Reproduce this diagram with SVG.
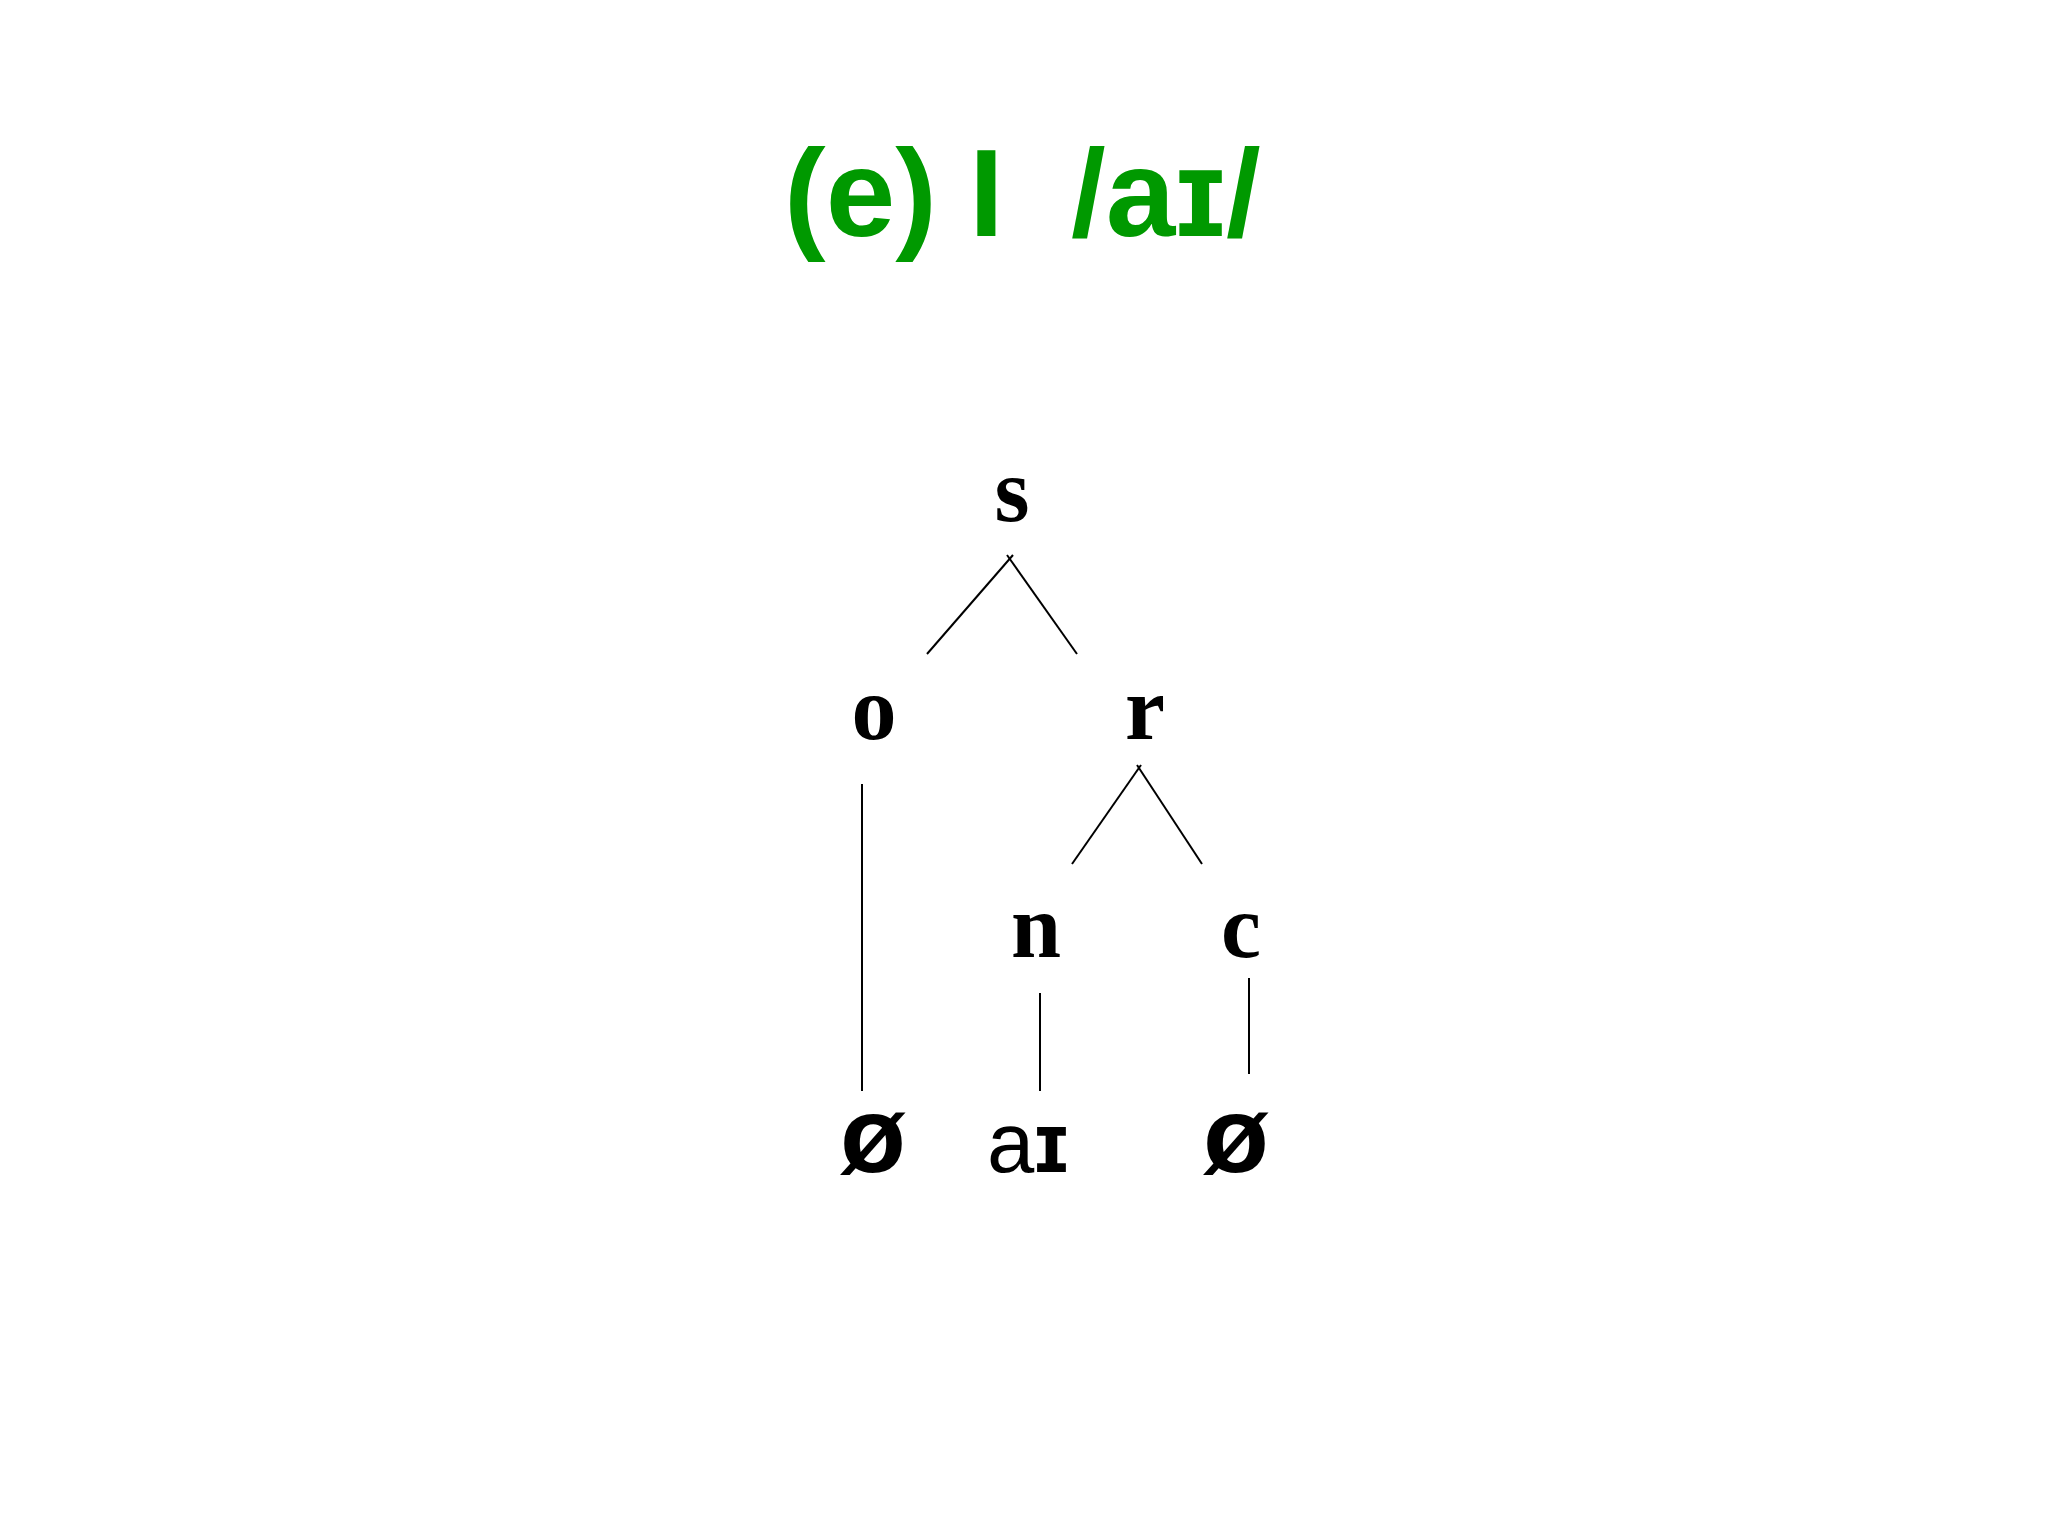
<svg xmlns="http://www.w3.org/2000/svg" width="2048" height="1536" viewBox="0 0 2048 1536">
<style>
.title{font-family:"Liberation Sans",Arial,sans-serif;font-weight:bold;font-size:125px;fill:#009900}
.node{font-family:"Liberation Serif","Times New Roman",serif;font-weight:bold;font-size:90px;fill:#000;text-anchor:middle}
.null{font-family:"Liberation Sans",Arial,sans-serif;font-weight:bold;font-size:108px;fill:#000;text-anchor:middle}
.seg{font-family:"Liberation Sans",Arial,sans-serif;font-size:85px;fill:#000}
.edge{stroke:#000;stroke-width:2;fill:none}
</style>
<rect width="2048" height="1536" fill="#fff"/>
<g id="title">
<text class="title" y="236"><tspan x="784">(e)</tspan><tspan x="969">I</tspan><tspan x="1071">/aɪ/</tspan></text>
</g>
<g id="connectors">
<line class="edge" x1="927" y1="654" x2="1013" y2="555"/>
<line class="edge" x1="1077" y1="654" x2="1007" y2="555"/>
<line class="edge" x1="1072" y1="864" x2="1141" y2="765"/>
<line class="edge" x1="1202" y1="864" x2="1137" y2="765"/>
<line class="edge" x1="862" y1="784" x2="862" y2="1091"/>
<line class="edge" x1="1040" y1="993" x2="1040" y2="1091"/>
<line class="edge" x1="1249" y1="978" x2="1249" y2="1074"/>
</g>
<g id="node-s"><text class="node" x="1012" y="521">s</text></g>
<g id="node-o"><text class="node" x="874" y="739">o</text></g>
<g id="node-r"><text class="node" x="1145" y="739">r</text></g>
<g id="node-n"><text class="node" x="1036" y="957">n</text></g>
<g id="node-c"><text class="node" x="1241" y="957">c</text></g>
<g id="node-onset-null"><text class="null" x="873" y="1172">ø</text></g>
<g id="node-nucleus"><text class="seg" x="987" y="1172">a<tspan font-weight="bold">ɪ</tspan></text></g>
<g id="node-coda-null"><text class="null" x="1236" y="1172">ø</text></g>
</svg>
